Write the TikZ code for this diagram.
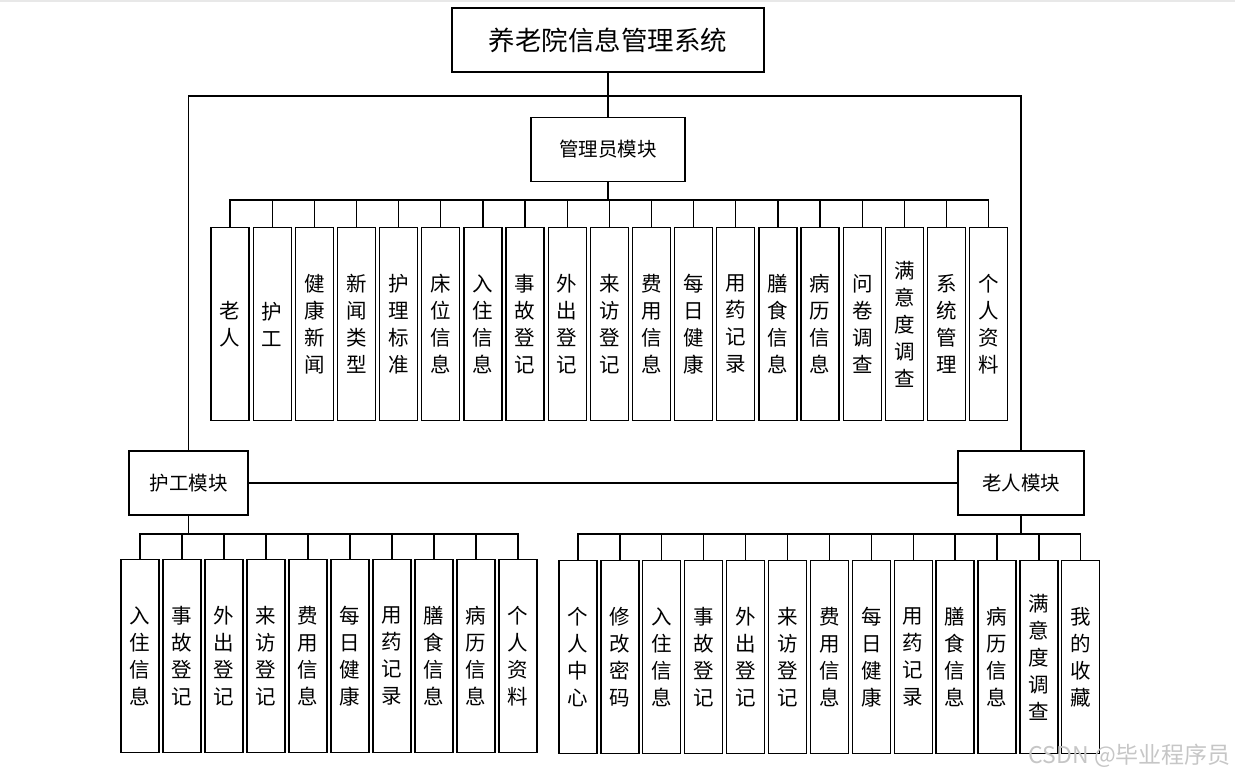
\documentclass[tikz,border=0pt]{standalone}
\usepackage{fontspec}
\newfontfamily\cjk{Noto Sans CJK SC}
\begin{document}
\begin{tikzpicture}[x=1pt,y=-1pt,
  box/.style={draw, line width=1.3pt, inner sep=0pt, align=center, fill=white},
  item/.style={box, minimum width=38pt, minimum height=193pt, font=\cjk\fontsize{20.5}{27}\selectfont},
  mod/.style={box, minimum height=64pt, font=\cjk\fontsize{19.5}{24}\selectfont},
  link/.style={line width=1.3pt}]
\useasboundingbox (0,0) rectangle (1235,776);
\fill[gray!18] (0,0) rectangle (1235,2.5);
% main nodes
\node[box, minimum width=312pt, minimum height=64pt, font=\cjk\fontsize{26.5}{30}\selectfont] (title) at (608,40) {养老院信息管理系统};
\node[mod, minimum width=154pt] (admin) at (608,149.5) {管理员模块};
\node[mod, minimum width=119pt] (nurse) at (188.5,483) {护工模块};
\node[mod, minimum width=126pt] (elder) at (1021,483) {老人模块};
\coordinate (top) at (608,96);
\coordinate (abus) at (608,200);
\coordinate (nbus) at (188.5,534);
\coordinate (ebus) at (1021,534);
\draw[link] (title.south) -- (admin.north);
\draw[link] (nurse.north) |- (top) -| (elder.north);
\draw[link] (nurse.east) -- (elder.west);
\draw[link] (admin.south) -- (abus);
\draw[link] (nurse.south) -- (nbus);
\draw[link] (elder.south) -- (ebus);
% admin children
\foreach \t [count=\i from 0] in {{老\\人},{护\\工},{健\\康\\新\\闻},{新\\闻\\类\\型},{护\\理\\标\\准},{床\\位\\信\\息},{入\\住\\信\\息},{事\\故\\登\\记},{外\\出\\登\\记},{来\\访\\登\\记},{费\\用\\信\\息},{每\\日\\健\\康},{用\\药\\记\\录},{膳\\食\\信\\息},{病\\历\\信\\息},{问\\卷\\调\\查},{满\\意\\度\\调\\查},{系\\统\\管\\理},{个\\人\\资\\料}}{
  \node[item] (a\i) at (230+42.15*\i,324) {\t};
  \draw[link] (abus) -| (a\i.north);
}
% nurse children
\foreach \t [count=\i from 0] in {{入\\住\\信\\息},{事\\故\\登\\记},{外\\出\\登\\记},{来\\访\\登\\记},{费\\用\\信\\息},{每\\日\\健\\康},{用\\药\\记\\录},{膳\\食\\信\\息},{病\\历\\信\\息},{个\\人\\资\\料}}{
  \node[item] (n\i) at (140+42*\i,656) {\t};
  \draw[link] (nbus) -| (n\i.north);
}
% elder children
\foreach \t [count=\i from 0] in {{个\\人\\中\\心},{修\\改\\密\\码},{入\\住\\信\\息},{事\\故\\登\\记},{外\\出\\登\\记},{来\\访\\登\\记},{费\\用\\信\\息},{每\\日\\健\\康},{用\\药\\记\\录},{膳\\食\\信\\息},{病\\历\\信\\息},{满\\意\\度\\调\\查},{我\\的\\收\\藏}}{
  \node[item] (e\i) at (578+41.9*\i,657) {\t};
  \draw[link] (ebus) -| (e\i.north);
}
\node[anchor=east, text=gray!45, font=\cjk\fontsize{23}{26}\selectfont, inner sep=0pt] (wm) at (1231,756) {CSDN @毕业程序员};
\end{tikzpicture}
\end{document}
